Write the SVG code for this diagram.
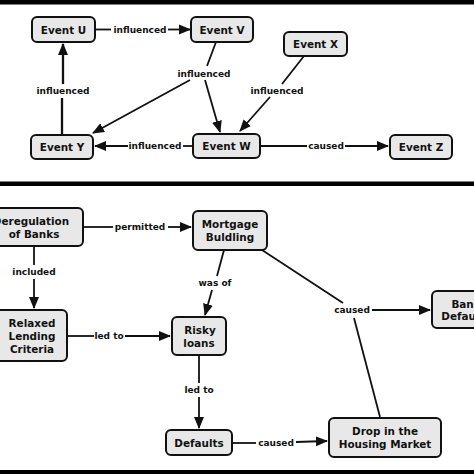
<svg xmlns="http://www.w3.org/2000/svg" width="474" height="474" viewBox="0 0 474 474">
<style>
.node rect{fill:#e8e8e8;stroke:#111;stroke-width:2}
.nt{font-family:"DejaVu Sans",Verdana,sans-serif;font-weight:bold;font-size:10.4px;fill:#111;text-anchor:middle;dominant-baseline:central}
.lt{font-family:"DejaVu Sans",Verdana,sans-serif;font-weight:bold;font-size:9px;fill:#111;text-anchor:middle;dominant-baseline:central}
.c line{stroke:#111;stroke-width:1.8;fill:none}
.c line.a{marker-end:url(#ah)}
.band{fill:#000}
</style>
<defs>
<marker id="ah" markerUnits="userSpaceOnUse" markerWidth="12" markerHeight="12" viewBox="0 0 12 10" refX="11" refY="5" orient="auto">
<path d="M0,0 L12,5 L0,10 z" fill="#111"/>
</marker>
</defs>
<rect width="474" height="474" fill="#fff"/>
<rect class="band" x="0" y="0" width="474" height="4.5"/>
<rect class="band" x="0" y="181.5" width="474" height="4.5"/>
<rect class="band" x="0" y="470" width="474" height="4"/>

<g id="connectors" class="c">
<line x1="95" y1="29.5" x2="111" y2="29.5"/>
<line class="a" x1="168" y1="29.5" x2="190" y2="29.5"/>
<line x1="216" y1="42" x2="207" y2="66"/>
<line class="a" x1="205" y1="80" x2="220" y2="132"/>
<line class="a" x1="190" y1="80" x2="93" y2="133"/>
<line x1="304" y1="56" x2="282" y2="84"/>
<line class="a" x1="270" y1="97" x2="240" y2="131"/>
<line x1="62" y1="135" x2="62" y2="98" style="stroke-width:2.3"/>
<line class="a" x1="63" y1="84" x2="63" y2="44" style="stroke-width:2.3"/>
<line x1="193" y1="146" x2="183" y2="146"/>
<line class="a" x1="128" y1="146" x2="95" y2="146"/>
<line x1="260" y1="146" x2="307" y2="146"/>
<line class="a" x1="345" y1="146" x2="388" y2="146"/>

<line x1="83" y1="227" x2="113" y2="227"/>
<line class="a" x1="168" y1="227" x2="191" y2="227"/>
<line x1="34" y1="246" x2="34" y2="265"/>
<line class="a" x1="34" y1="279" x2="34" y2="308"/>
<line x1="67" y1="336" x2="94" y2="336"/>
<line class="a" x1="125" y1="336" x2="170" y2="336"/>
<line x1="224" y1="250" x2="217" y2="276"/>
<line class="a" x1="212" y1="290" x2="205" y2="315"/>
<line x1="199" y1="355" x2="199" y2="383"/>
<line class="a" x1="199" y1="397" x2="199" y2="428"/>
<line x1="232" y1="443" x2="256" y2="443"/>
<line class="a" x1="296" y1="442" x2="327" y2="441"/>
<line x1="262" y1="250" x2="343" y2="303"/>
<line class="a" x1="372" y1="310" x2="430" y2="310"/>
<line x1="354" y1="318" x2="380" y2="417"/>
</g>

<g id="labels">
<text class="lt" x="140" y="29.5">influenced</text>
<text class="lt" x="204" y="74">influenced</text>
<text class="lt" x="277" y="91">influenced</text>
<text class="lt" x="63" y="91">influenced</text>
<text class="lt" x="155" y="146">influenced</text>
<text class="lt" x="326" y="146">caused</text>
<text class="lt" x="140" y="227">permitted</text>
<text class="lt" x="34" y="272">included</text>
<text class="lt" x="109" y="336">led to</text>
<text class="lt" x="215" y="283">was of</text>
<text class="lt" x="199" y="390">led to</text>
<text class="lt" x="276" y="443">caused</text>
<text class="lt" x="352" y="310">caused</text>
</g>

<g id="eventU" class="node"><rect x="32" y="17" width="63" height="25" rx="5"/><text class="nt" x="63.5" y="29.5">Event U</text></g>
<g id="eventV" class="node"><rect x="191" y="17" width="62" height="25" rx="5"/><text class="nt" x="222" y="29.5">Event V</text></g>
<g id="eventX" class="node"><rect x="284" y="32" width="63" height="24" rx="5"/><text class="nt" x="315.5" y="44">Event X</text></g>
<g id="eventY" class="node"><rect x="31" y="135" width="62" height="24" rx="5"/><text class="nt" x="62" y="147">Event Y</text></g>
<g id="eventW" class="node"><rect x="193" y="134" width="67" height="24" rx="5"/><text class="nt" x="226.5" y="146">Event W</text></g>
<g id="eventZ" class="node"><rect x="390" y="135" width="62" height="24" rx="5"/><text class="nt" x="421" y="147">Event Z</text></g>

<g id="deregulation" class="node"><rect x="-16" y="208" width="99" height="38" rx="5"/><text class="nt" x="31" y="221">Deregulation</text><text class="nt" x="34" y="233.5">of Banks</text></g>
<g id="mortgage" class="node"><rect x="193" y="211" width="74" height="39" rx="5"/><text class="nt" x="230" y="224">Mortgage</text><text class="nt" x="230" y="236.5">Buldling</text></g>
<g id="bankDefaults" class="node"><rect x="432" y="291" width="70" height="37" rx="5"/><text class="nt" x="466" y="303.5">Bank</text><text class="nt" x="466" y="316">Defaults</text></g>
<g id="relaxed" class="node"><rect x="-4" y="310" width="71" height="51" rx="5"/><text class="nt" x="32" y="323">Relaxed</text><text class="nt" x="32" y="336">Lending</text><text class="nt" x="32" y="349">Criteria</text></g>
<g id="risky" class="node"><rect x="172" y="317" width="54" height="38" rx="5"/><text class="nt" x="200" y="330">Risky</text><text class="nt" x="199" y="343">loans</text></g>
<g id="defaults" class="node"><rect x="166" y="430" width="66" height="25" rx="5"/><text class="nt" x="199" y="442.5">Defaults</text></g>
<g id="drop" class="node"><rect x="329" y="418" width="112" height="39" rx="5"/><text class="nt" x="385" y="431">Drop in the</text><text class="nt" x="385" y="444">Housing Market</text></g>
</svg>
